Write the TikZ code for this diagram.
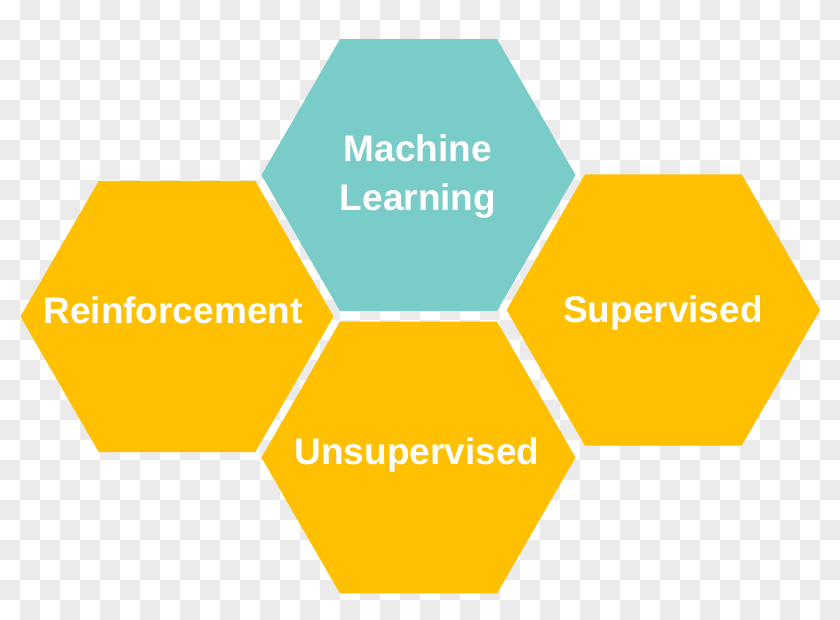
\documentclass[tikz,border=0pt]{standalone}
\usepackage{fontspec}
\setmainfont{Liberation Sans}
\usetikzlibrary{shapes.geometric}
\definecolor{mlteal}{RGB}{122,204,200}
\definecolor{hexyellow}{RGB}{254,192,0}
\definecolor{checkgray}{RGB}{235,235,235}
\tikzset{
  hexbox/.style={regular polygon, regular polygon sides=6, inner sep=0pt, outer sep=0pt, minimum size=#1},
  hexlabel/.style={text=white, font=\fontsize{37}{49.5}\selectfont\bfseries, inner sep=0pt, align=center}
}
\begin{document}
\begin{tikzpicture}[x=1pt,y=1pt]
\useasboundingbox (0,0) rectangle (840,620);
\fill[white] (0,0) rectangle (840,620);
\foreach \i in {0,...,41}{
  \foreach \j in {0,...,30}{
    \pgfmathtruncatemacro\cellpar{mod(\i+\j,2)}
    \ifnum\cellpar=1
      \fill[checkgray] (20*\i,620-20*\j-20) rectangle (20*\i+20,620-20*\j);
    \fi
  }
}
\node[hexbox=314pt, fill=mlteal] (ml) at (418.5,445) {};
\node[hexbox=313pt, fill=hexyellow] (re) at (177,303.5) {};
\node[hexbox=313.4pt, fill=hexyellow] (su) at (663.3,310) {};
\node[hexbox=314pt, fill=hexyellow] (un) at (418.5,162.5) {};
\node[hexlabel, anchor=base] (mlt) at (418,409) {Machine\\Learning};
\node[hexlabel, anchor=base] (ret) at (173,296.7) {Reinforcement};
\node[hexlabel, anchor=base] (sut) at (663,297.3) {Supervised};
\node[hexlabel, anchor=base] (unt) at (417,155.7) {Unsupervised};
\end{tikzpicture}
\end{document}
